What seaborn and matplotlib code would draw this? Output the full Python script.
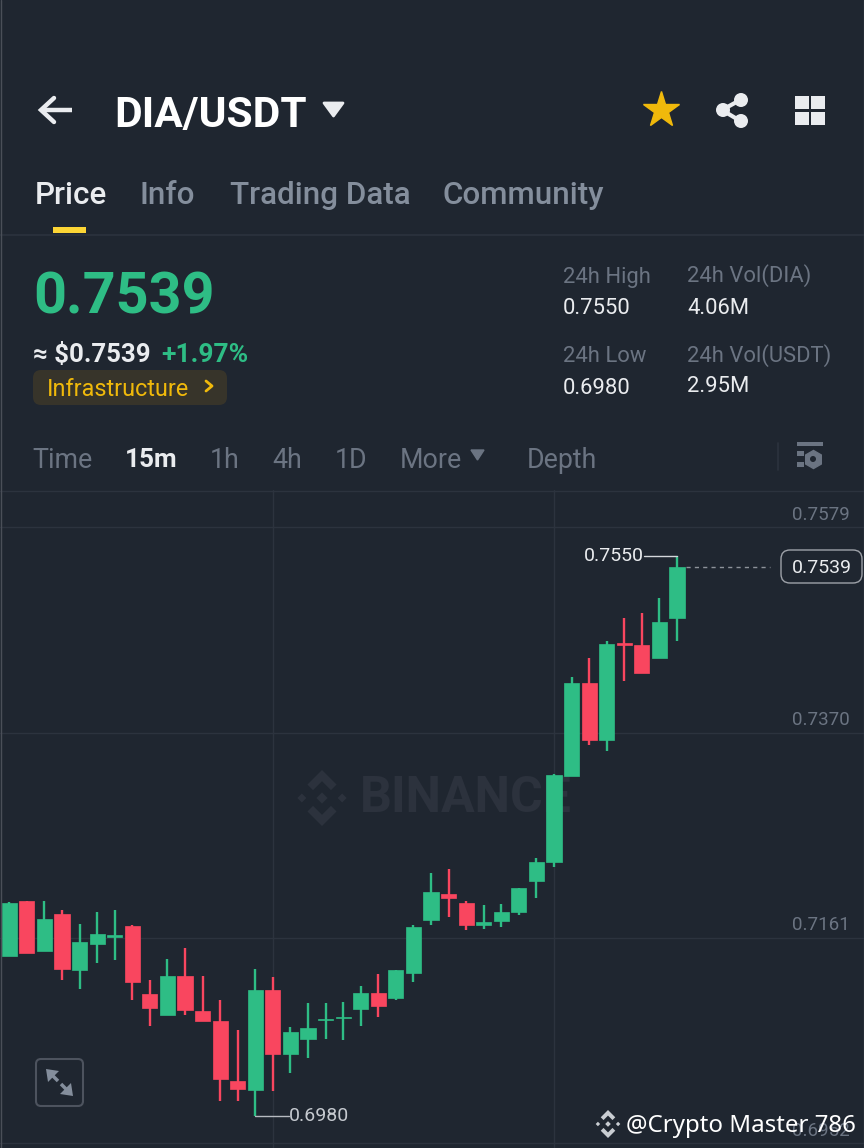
"""DIA/USDT 15m candlestick screen."""

import matplotlib

matplotlib.use("Agg")
import matplotlib.pyplot as plt
import numpy as np
import pandas as pd
import seaborn as sns
from matplotlib.patches import Circle, FancyBboxPatch, Polygon, Rectangle
from matplotlib.transforms import ScaledTranslation

opens = [0.71428, 0.71988, 0.71479, 0.71849, 0.71279, 0.71547, 0.71621, 0.71730, 0.71038, 0.70827,
         0.71224, 0.70868, 0.70766, 0.70155, 0.70061, 0.71076, 0.70430, 0.70580, 0.70770, 0.70791,
         0.70882, 0.71045, 0.70997, 0.71249, 0.71788, 0.72056, 0.71967, 0.71740, 0.71781, 0.71870,
         0.72188, 0.72379, 0.73257, 0.74204, 0.73627, 0.74614, 0.74591, 0.74458, 0.74866]
highs = [0.71978, 0.71988, 0.71988, 0.71893, 0.71747, 0.71870, 0.71896, 0.71740, 0.71180, 0.71397,
         0.71506, 0.71218, 0.70977, 0.70671, 0.71295, 0.71214, 0.70699, 0.70949, 0.70949, 0.70960,
         0.71119, 0.71238, 0.71285, 0.71740, 0.72267, 0.72307, 0.71988, 0.71947, 0.71957, 0.72114,
         0.72419, 0.73278, 0.74268, 0.74455, 0.74628, 0.74863, 0.74913, 0.75072, 0.75500]
lows = [0.71428, 0.71458, 0.71479, 0.71177, 0.71086, 0.71357, 0.71387, 0.70977, 0.70715, 0.70827,
        0.70824, 0.70766, 0.69949, 0.69949, 0.69800, 0.70050, 0.70237, 0.70389, 0.70577, 0.70567,
        0.70709, 0.70807, 0.70977, 0.71157, 0.71737, 0.71825, 0.71689, 0.71697, 0.71723, 0.71845,
        0.72015, 0.72334, 0.73257, 0.73573, 0.73515, 0.74224, 0.74306, 0.74458, 0.74635]
closes = [0.71961, 0.71458, 0.71798, 0.71295, 0.71567, 0.71649, 0.71642, 0.71160, 0.70898, 0.71224,
          0.70878, 0.70766, 0.70170, 0.70068, 0.71076, 0.70424, 0.70654, 0.70695, 0.70786, 0.70807,
          0.71045, 0.70919, 0.71285, 0.71717, 0.72076, 0.72012, 0.71737, 0.71774, 0.71873, 0.72114,
          0.72385, 0.73267, 0.74204, 0.73627, 0.74604, 0.74594, 0.74306, 0.74825, 0.75390]
price_ticks = [0.7579, 0.7370, 0.7161, 0.6952]
time_grid = [15, 31]
last_price = 0.7539
high_price = 0.7550
low_price = 0.6980

tabs = ["Price", "Info", "Trading Data", "Community"]
intervals = ["Time", "15m", "1h", "4h", "1D", "More", "Depth"]
stats = [("24h High", "0.7550"), ("24h Vol(DIA)", "4.06M"), ("24h Low", "0.6980"), ("24h Vol(USDT)", "2.95M")]

BG = "#1f2630"
GRID = "#2c333e"
GREEN = "#2ebd85"
RED = "#f9465f"
WHITE = "#eaecef"
GREY = "#848e9c"
DIM = "#6b7482"
YELLOW = "#f0b90b"
WATERMARK = "#2c323d"

sns.set_theme(style="darkgrid", rc={"axes.facecolor": "none", "figure.facecolor": BG, "grid.color": GRID})
plt.rcParams["font.family"] = ["Roboto", "DejaVu Sans"]

fig = plt.figure(figsize=(8.64, 11.48), dpi=100)

# chart area runs from y=490 px to the bottom edge of the screen
ax = fig.add_axes([0, 0, 1, 658 / 1148])
ui = fig.add_axes([0, 0, 1, 1], zorder=3)
ui.set_xlim(0, 864)
ui.set_ylim(1148, 0)
ui.axis("off")
ui.patch.set_alpha(0)

df = pd.DataFrame({"candle": np.arange(len(opens)), "open": opens, "high": highs, "low": lows, "close": closes})
df["body_low"] = df[["open", "close"]].min(axis=1)
df["body"] = (df["close"] - df["open"]).abs()
up = df[df["close"] >= df["open"]]
down = df[df["close"] < df["open"]]

for part, color in [(up, GREEN), (down, RED)]:
    sns.barplot(data=part, x="candle", y="body", bottom=part["body_low"].to_numpy(), native_scale=True,
                width=0.86, color=color, saturation=1, errorbar=None, edgecolor=color, linewidth=0.5, ax=ax)
    ax.vlines(part["candle"], part["low"], part["high"], color=color, linewidth=1.7, zorder=1.5)

ax.set_xlim(-0.529, 48.645)
ax.set_ylim(0.6947, 0.76169)
ax.set_xlabel("")
ax.set_ylabel("")
ax.set_xticks(time_grid)
ax.set_yticks(price_ticks)
ax.set_yticklabels([f"{p:.4f}" for p in price_ticks])
ax.grid(True, color=GRID, linewidth=1)
for spine in ax.spines.values():
    spine.set_visible(False)
ax.tick_params(axis="x", length=0, labelbottom=False)
ax.tick_params(axis="y", length=0, labelleft=False, labelright=True, left=False, right=False,
               pad=-52, labelsize=13.5, labelcolor=DIM)
for label in ax.get_yticklabels():
    label.set_verticalalignment("bottom")
    label.set_transform(label.get_transform() + ScaledTranslation(0, 2.5 / 72, fig.dpi_scale_trans))

# high / low leaders and last price tag
ax.plot([38, 36.15], [high_price, high_price], color="#d5d8dc", linewidth=1)
ax.text(36.1, high_price, "0.7550", color=WHITE, fontsize=14, ha="right", va="center")
ax.plot([14, 15.9], [low_price, low_price], color="#b7bbc1", linewidth=1)
ax.text(15.9, low_price, "0.6980", color="#c5c9cf", fontsize=14, ha="left", va="center")
ax.plot([38.5, 43.3], [last_price, last_price], color="#8d929a", linewidth=1, dashes=(3, 3))
ui.add_patch(FancyBboxPatch((781, 550), 81, 33, boxstyle="round,pad=0,rounding_size=9", fc=BG, ec="#9ea2a9", lw=1))
ui.text(822, 568, "0.7539", color=WHITE, fontsize=14, ha="center", va="center")


def binance_logo(target, cx, cy, r, color, zorder):
    """Centre and side diamonds plus the top and bottom chevrons."""
    shapes = []
    for dx, h in [(0, 0.2), (-0.72, 0.16), (0.72, 0.16)]:
        x = cx + dx * r
        shapes.append([(x - h * r, cy), (x, cy - h * r), (x + h * r, cy), (x, cy + h * r)])
    for sign in (-1, 1):
        shapes.append([(cx, cy + sign * r), (cx + 0.52 * r, cy + sign * 0.48 * r), (cx + 0.32 * r, cy + sign * 0.28 * r),
                       (cx, cy + sign * 0.6 * r), (cx - 0.32 * r, cy + sign * 0.28 * r), (cx - 0.52 * r, cy + sign * 0.48 * r)])
    for pts in shapes:
        target.add_patch(Polygon(pts, fc=color, ec="none", transform=ui.transData, zorder=zorder))


# BINANCE watermark sits behind the candles
binance_logo(ax, 322, 798, 28, WATERMARK, 0.8)
ax.text(360, 799, "BINANCE", color=WATERMARK, fontsize=36, fontweight="bold", ha="left", va="center",
        transform=ui.transData, zorder=0.8)

# header
ui.plot([41, 72], [110, 110], color=WHITE, linewidth=3.2, solid_capstyle="butt")
ui.plot([54, 41, 54], [98, 110, 122], color=WHITE, linewidth=3.2, solid_joinstyle="miter")
ui.text(114, 115, "DIA/USDT", color="white", fontsize=30.5, fontweight="bold", ha="left", va="center")
ui.add_patch(Polygon([(324, 103), (343, 103), (333.5, 116)], fc=WHITE, ec=WHITE, lw=2, joinstyle="round"))
ui.plot([661], [110], marker="*", markersize=27, color=YELLOW, markeredgecolor=YELLOW)
ui.plot([742, 722, 742], [99, 110, 122], color=WHITE, linewidth=3)
for cx, cy in [(741, 100), (723, 110), (741, 121)]:
    ui.add_patch(Circle((cx, cy), 7, fc=WHITE, ec="none"))
for x0, y0 in [(795, 96), (811, 96), (795, 112), (811, 112)]:
    ui.add_patch(Rectangle((x0, y0), 13.5, 13, fc=WHITE, ec="none"))

tab_x = [35, 139, 230, 443]
for name, x in zip(tabs, tab_x):
    ui.text(x, 196, name, color=WHITE if name == "Price" else GREY, fontsize=22.6, ha="left", va="center",
            fontweight="medium")
ui.add_patch(Rectangle((53, 227), 33, 6, fc="#fcd535", ec="none"))
ui.plot([0, 864], [234.5, 234.5], color=GRID, linewidth=1.2)

# price block
ui.text(33, 298, "0.7539", color=GREEN, fontsize=41.4, fontweight="bold", ha="left", va="center")
ui.text(33, 355, "≈ $0.7539", color=WHITE, fontsize=18.5, fontweight="bold", ha="left", va="center")
ui.text(161, 355, "+1.97%", color=GREEN, fontsize=19, fontweight="bold", ha="left", va="center")
ui.add_patch(FancyBboxPatch((33, 370), 194, 35, boxstyle="round,pad=0,rounding_size=8", fc="#37342a", ec="none"))
ui.text(47, 389, "Infrastructure", color=YELLOW, fontsize=16.8, ha="left", va="center")
ui.plot([206, 212, 206], [381, 386, 391], color=YELLOW, linewidth=2)

stat_pos = [(563, 277, 308), (687, 276, 308), (563, 357, 388), (687, 356, 387)]
for (title, value), (x, y0, y1) in zip(stats, stat_pos):
    ui.text(x, y0, title, color=DIM, fontsize=15.8, ha="left", va="center")
    ui.text(x, y1, value, color=WHITE, fontsize=15.8, ha="left", va="center")

# interval row
interval_x = [32, 125, 210, 272, 335, 400, 527]
for name, x in zip(intervals, interval_x):
    active = name == "15m"
    ui.text(x, 460, name, color=WHITE if active else DIM, fontsize=18.8 if active else 19.3, ha="left", va="center",
            fontweight="bold" if active else "normal")
ui.add_patch(Polygon([(471, 450), (484, 450), (477.5, 460)], fc=DIM, ec=DIM, lw=1))
ui.plot([777.5, 777.5], [443, 470], color=GRID, linewidth=1.2)
ui.add_patch(Rectangle((797, 442), 26, 4, fc=DIM, ec="none"))
ui.add_patch(Rectangle((797, 451), 7, 5, fc=DIM, ec="none"))
ui.add_patch(Rectangle((797, 462), 7, 5, fc=DIM, ec="none"))
ui.plot([813], [459], marker="h", markersize=13, color=DIM)
ui.add_patch(Circle((813, 459), 3, fc=BG, ec="none", zorder=4))
ui.plot([0, 864], [490.5, 490.5], color=GRID, linewidth=1)

# expand button
ui.add_patch(FancyBboxPatch((36, 1059), 47, 47, boxstyle="round,pad=0,rounding_size=5", fc="none", ec="#4d535e", lw=1.5))
for tip, toward in [((46, 1069), 1), ((73, 1096), -1)]:
    tx, ty = tip
    ui.add_patch(Polygon([(tx, ty), (tx + toward * 13, ty + toward * 2), (tx + toward * 2, ty + toward * 13)], fc=GREY, ec="none"))
    ui.plot([tx + toward * 5, tx + toward * 12], [ty + toward * 5, ty + toward * 12], color=GREY, linewidth=2.5, solid_capstyle="butt")

# credit overlay
binance_logo(ui, 608, 1124, 14, "#c9cdd2", 5)
ui.text(626, 1126, "@Crypto Master 786", color="white", fontsize=17.3, fontfamily="Noto Sans", ha="left", va="center", zorder=5)

# screen edges
ui.plot([0.5, 0.5], [0, 1148], color="#4a4f58", linewidth=1)
ui.plot([863.5, 863.5], [0, 1148], color="#3a404a", linewidth=1)

fig.savefig("out.png", dpi=100, facecolor=BG)
plt.close(fig)
